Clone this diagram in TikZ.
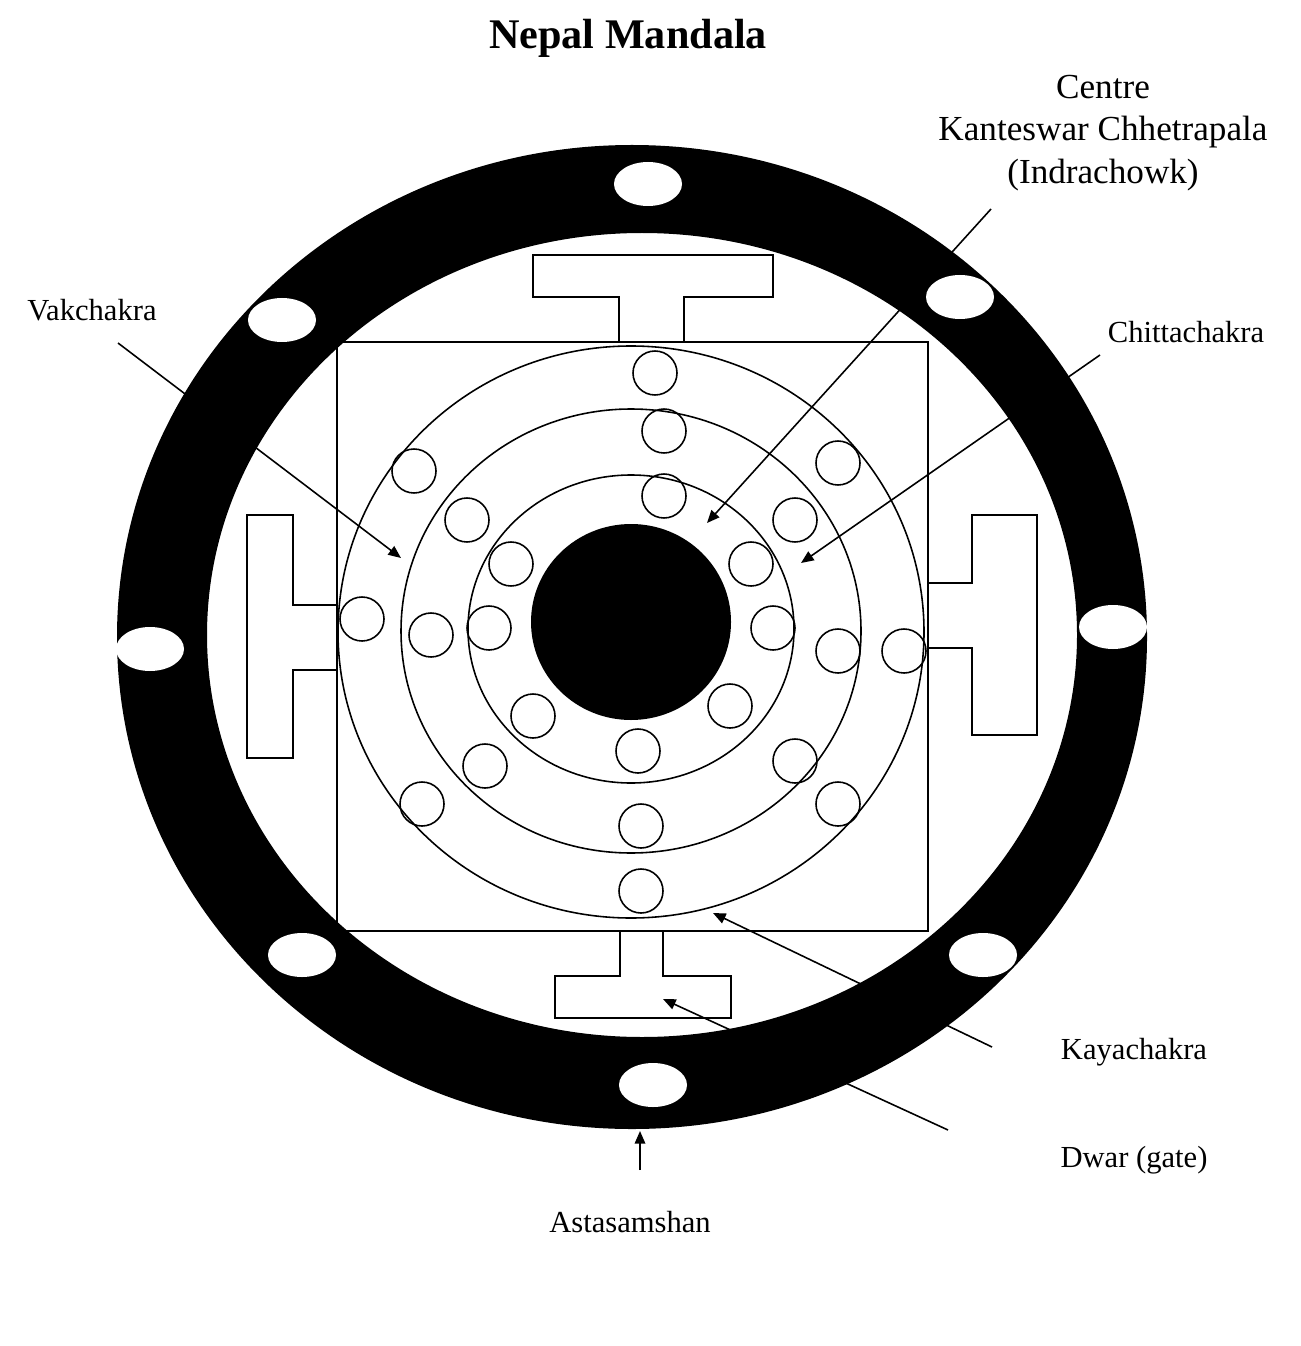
\documentclass[tikz,border=0pt]{standalone}
\usepackage{fontspec}
\setmainfont{Liberation Serif}
\usetikzlibrary{arrows.meta}

\begin{document}
\begin{tikzpicture}[x=0.01cm, y=-0.01cm, line width=0.45pt, >={Triangle[length=3.6pt,width=3pt]}]
	\tikzstyle{every node}=[inner sep=0pt, align=center]
	\tikzstyle{lbl}=[font=\fontsize{8.7}{10.5}\selectfont]
	\tikzstyle{wall}=[line width=0.6pt]
	\tikzstyle{hole}=[fill=white]
	\useasboundingbox (0,0) rectangle (1300,1346);

		\node (title) at (628, 38) {\fontsize{12}{14}\selectfont\bfseries Nepal Mandala};
		\node (centre) at (1103, 133) {\fontsize{10}{12.1}\selectfont Centre\\Kanteswar Chhetrapala\\(Indrachowk)};
		\node[lbl] (vak)  at (92, 310)   {Vakchakra};
		\node[lbl] (chit) at (1186, 332) {Chittachakra};
		\node[lbl] (kaya) at (1134, 1052) {Kayachakra};
		\node[lbl] (dwar) at (1134, 1160) {Dwar (gate)};
		\node[lbl] (asta) at (630, 1222) {Astasamshan};

		\coordinate (vak-s)  at (118, 343);  \coordinate (vak-t)  at (401, 558);
		\coordinate (cen-s)  at (991, 209);  \coordinate (cen-t)  at (707, 523);
		\coordinate (chit-s) at (1100, 355); \coordinate (chit-t) at (801, 563);
		\coordinate (kaya-s) at (992, 1047); \coordinate (kaya-t) at (713, 913);
		\coordinate (dwar-s) at (948, 1130); \coordinate (dwar-t) at (663, 999);
		\coordinate (asta-s) at (640, 1170); \coordinate (asta-t) at (640, 1131);

		% square and gates
		\draw[wall] (337, 342) rectangle (928, 931);
		\draw[wall] (619, 342) -- (619, 297) -- (533, 297) -- (533, 255) -- (773, 255) -- (773, 297) -- (684, 297) -- (684, 342);
		\draw[wall] (620, 931) -- (620, 976) -- (555, 976) -- (555, 1018) -- (731, 1018) -- (731, 976) -- (663, 976) -- (663, 931);
		\draw[wall] (337, 605) -- (293, 605) -- (293, 515) -- (247, 515) -- (247, 758) -- (293, 758) -- (293, 670) -- (337, 670);
		\draw[wall] (928, 583) -- (972, 583) -- (972, 515) -- (1037, 515) -- (1037, 735) -- (972, 735) -- (972, 648) -- (928, 648);

		% chakras
		\draw (631, 632) ellipse [x radius=293, y radius=286];
		\draw (631, 631) ellipse [x radius=230, y radius=222];
		\draw (631, 629) ellipse [x radius=163, y radius=154];
		\fill (631, 622) ellipse [x radius=100, y radius=98];
		\foreach \p in {(655,373), (414,471), (838,463), (362,619), (904,651), (422,804), (838,804), (641,891),
		                (664,431), (467,520), (795,520), (431,635), (838,651), (485,766), (795,761), (641,826),
		                (664,496), (511,564), (751,564), (489,628), (773,628), (533,716), (730,706), (638,751)}
			\draw \p circle [radius=22];

		\draw[->] (vak-s) -- (vak-t);
		\draw[->] (cen-s) -- (cen-t);
		\draw[->] (chit-s) -- (chit-t);
		\draw[->] (kaya-s) -- (kaya-t);
		\draw[->] (dwar-s) -- (dwar-t);
		\draw[->] (asta-s) -- (asta-t);

		% outer ring with cremation grounds
		\fill[even odd rule] (632, 637) ellipse [x radius=515, y radius=492]
			(642, 635) ellipse [x radius=435, y radius=402];
		\foreach \p in {(648,184), (960,297), (1113,627), (983,955), (653,1085), (302,955), (150,649), (282,320)}
			\fill[hole] \p ellipse [x radius=34, y radius=22];
	\end{tikzpicture}
\end{document}
